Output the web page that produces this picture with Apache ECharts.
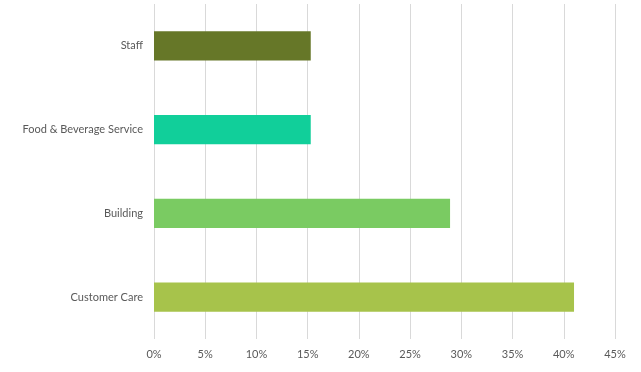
<!DOCTYPE html>
<html><head><meta charset="utf-8">
<script src="https://cdn.jsdelivr.net/npm/echarts@6/dist/echarts.min.js"></script>
<style>html,body{margin:0;padding:0;background:#fff}#c{width:641px;height:372px}</style>
</head><body><div id="c"></div>
<script>
var categories = ['Customer Care', 'Building', 'Food & Beverage Service', 'Staff'];
var values = [0.41, 0.289, 0.153, 0.153];
var colors = ['#A7C34B', '#7ACB62', '#11CF9A', '#667728'];
var xTicks = [0, 0.05, 0.10, 0.15, 0.20, 0.25, 0.30, 0.35, 0.40, 0.45];

var chart = echarts.init(document.getElementById('c'));
chart.setOption({
  animation: false,
  grid: {left: 154, right: 26, top: 4, bottom: 33, containLabel: false},
  xAxis: {
    type: 'value', min: xTicks[0], max: xTicks[xTicks.length - 1], interval: 0.05,
    axisLine: {show: false}, axisTick: {show: false},
    splitLine: {lineStyle: {color: '#D9D9D9', width: 1}},
    axisLabel: {color: '#595959', fontSize: 11, fontFamily: 'Lato', margin: 10,
      formatter: function (v) { return Math.round(v * 100) + '%'; }}
  },
  yAxis: {
    type: 'category', data: categories,
    axisLine: {show: false}, axisTick: {show: false},
    axisLabel: {color: '#595959', fontSize: 11, fontFamily: 'Lato', margin: 11}
  },
  series: [{
    type: 'bar', barWidth: '35%',
    data: values.map(function (v, i) { return {value: v, itemStyle: {color: colors[i]}}; })
  }]
});
</script></body></html>
